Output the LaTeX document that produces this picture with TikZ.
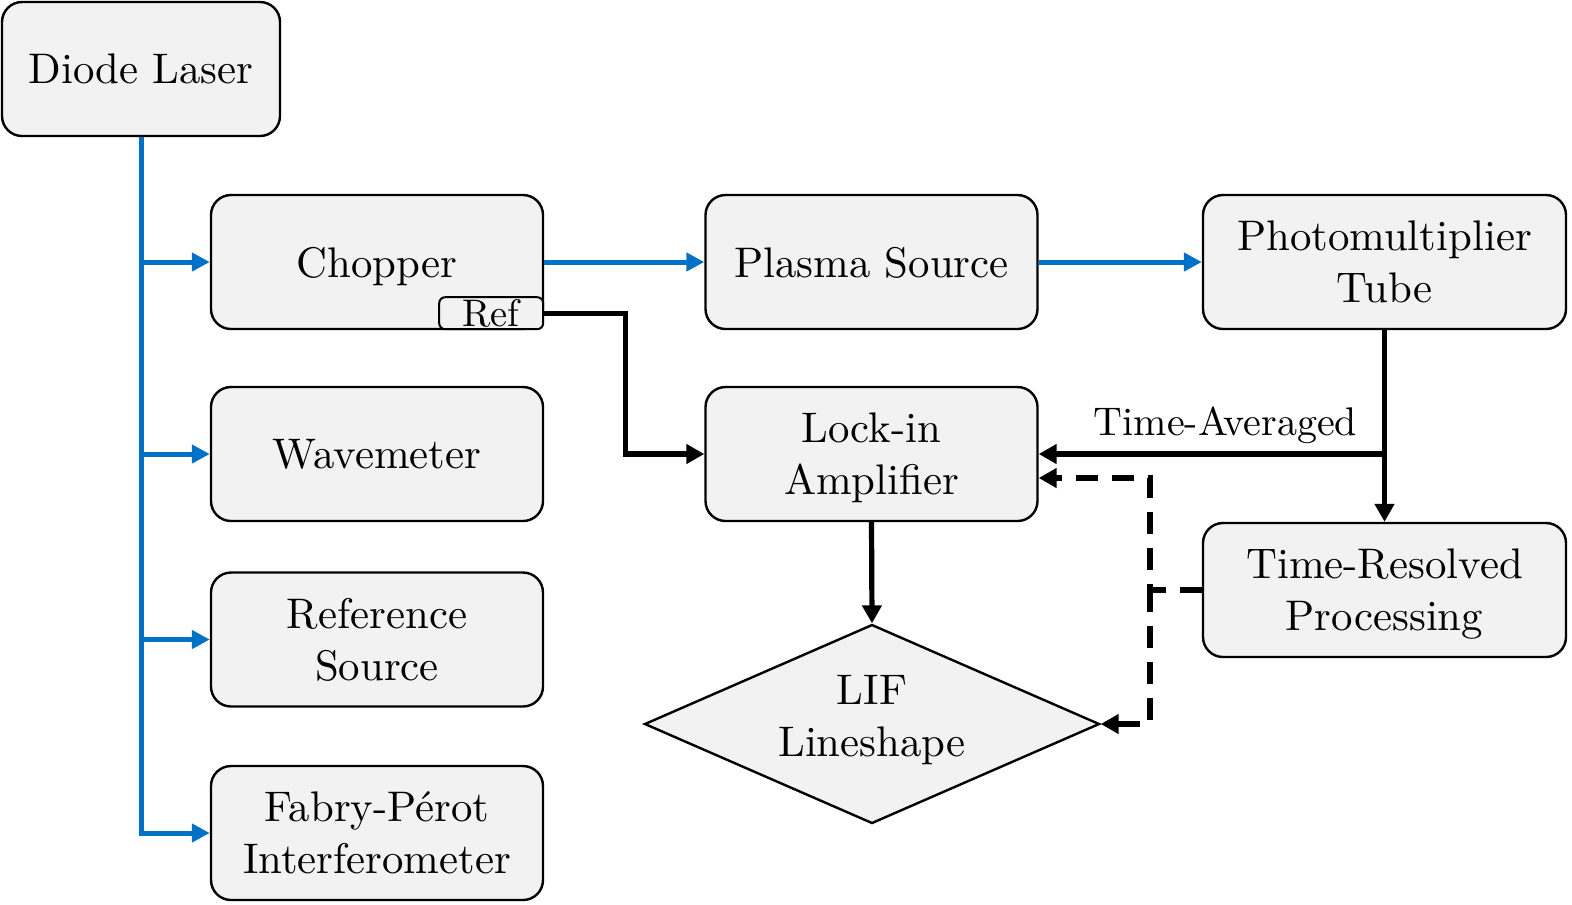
\documentclass[tikz,border=0pt]{standalone}
\usepackage{fontspec}
\usetikzlibrary{arrows.meta,shapes.geometric,calc}
\definecolor{beam}{RGB}{0,114,198}
\definecolor{boxfill}{gray}{0.949}
\tikzset{
  blk/.style={draw, line width=0.6pt, fill=boxfill, rounded corners=5pt,
    minimum width=83pt, minimum height=33.5pt, align=center, inner sep=0pt,
    text depth=0pt, font=\fontsize{10.7}{13}\selectfont},
  refbox/.style={draw, line width=0.5pt, fill=boxfill, rounded corners=1.5pt,
    minimum width=26pt, minimum height=8pt, inner sep=0pt,
    font=\fontsize{9.6}{11}\selectfont},
  lifshape/.style={draw, line width=0.6pt, fill=boxfill, diamond, aspect=2.29,
    minimum width=113.75pt, minimum height=49.75pt, inner sep=0pt, align=center,
    text depth=3.9pt, font=\fontsize{10.7}{13}\selectfont},
  beamarrow/.style={draw=beam, line width=1.25pt, -{Triangle[length=4.5pt,width=4.5pt]}},
  sig/.style={line width=1.3pt, -{Triangle[length=4.5pt,width=4.75pt]}},
  dsig/.style={sig, dash pattern=on 5.5pt off 3.5pt},
  lbl/.style={font=\fontsize{10}{12}\selectfont, inner sep=0pt}
}
\begin{document}
\begin{tikzpicture}[x=0.25pt,y=-0.25pt]
\useasboundingbox (0,0) rectangle (1572,904);
% nodes
\node[blk, minimum width=69.5pt] (laser) at (141,69) {Diode Laser};
\node[blk] (chop) at (377,262) {Chopper};
\node[blk] (wave) at (377,454) {Wavemeter};
\node[blk] (rsrc) at (377,639.5) {Reference\\Source};
\node[blk] (fab) at (377,833) {Fabry-Pérot\\Interferometer};
\node[blk] (plasma) at (871.5,262) {Plasma Source};
\node[blk, minimum width=90.75pt] (pmt) at (1384.5,262) {Photomultiplier\\Tube};
\node[blk] (lock) at (871.5,454) {Lock-in\\Amplifier};
\node[blk, minimum width=90.75pt] (trp) at (1384.5,590) {Time-Resolved\\Processing};
\node[lifshape] (lif) at (872,724) {LIF\\Lineshape};
\node[refbox, anchor=south east] (ref) at (chop.south east) {Ref};
\coordinate (dj) at (1150,590);
% beam connectors
\draw[beamarrow] (laser.south) |- (chop.west);
\draw[beamarrow] (laser.south) |- (wave.west);
\draw[beamarrow] (laser.south) |- (rsrc.west);
\draw[beamarrow] (laser.south) |- (fab.west);
\draw[beamarrow] (chop.east) -- (plasma.west);
\draw[beamarrow] (plasma.east) -- (pmt.west);
% signal connectors
\draw[sig] (ref.east) -- ++(81,0) |- (lock.west);
\draw[sig] (pmt.south) -- (trp.north);
\draw[sig] (pmt.south |- lock.east) -- node[lbl, pos=0.46, above=2pt] {Time-Averaged} (lock.east);
\draw[sig] (lock.south) -- (lif.north);
\draw[dsig] (trp.west) -- (dj) |- ([yshift=-6pt]lock.east);
\draw[dsig] (dj) |- (lif.east);
\end{tikzpicture}
\end{document}
